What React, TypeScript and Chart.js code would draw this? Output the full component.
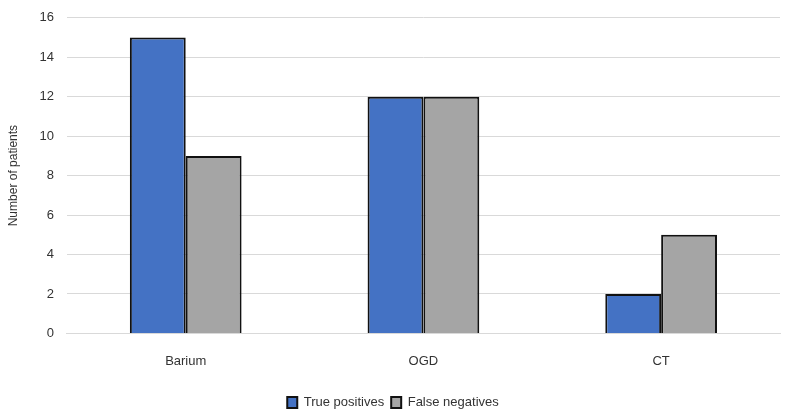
import React, { useEffect, useRef } from 'react'
import { Chart, registerables } from 'chart.js'

Chart.register(...registerables)

const categories = ['Barium', 'OGD', 'CT']
const truePositives = [15, 12, 2]
const falseNegatives = [9, 12, 5]
const seriesNames = ['True positives', 'False negatives']

const App: React.FC = () => {
  const ref = useRef<HTMLCanvasElement | null>(null)

  useEffect(() => {
    document.body.style.margin = '0'
    document.body.style.overflow = 'hidden'
    if (!ref.current) return
    const font = "'Liberation Sans', Arial, sans-serif"
    const chart = new Chart(ref.current, {
      type: 'bar',
      data: {
        labels: categories,
        datasets: [
          {
            label: seriesNames[0],
            data: truePositives,
            backgroundColor: '#4472C4',
            borderColor: '#111111',
            borderWidth: 2,
            categoryPercentage: 0.47,
            barPercentage: 1,
          },
          {
            label: seriesNames[1],
            data: falseNegatives,
            backgroundColor: '#A5A5A5',
            borderColor: '#111111',
            borderWidth: 2,
            categoryPercentage: 0.47,
            barPercentage: 1,
          },
        ],
      },
      options: {
        animation: false,
        responsive: true,
        maintainAspectRatio: false,
        layout: { padding: { top: 0, right: 5, left: 6, bottom: 0 } },
        scales: {
          x: {
            grid: { display: false, drawTicks: false },
            border: { display: true, color: '#d9d9d9', width: 1 },
            ticks: { color: '#333333', font: { family: font, size: 13 }, padding: 20 },
          },
          y: {
            min: 0,
            max: 16,
            ticks: { stepSize: 2, color: '#333333', font: { family: font, size: 13 }, padding: 13 },
            grid: { color: '#d9d9d9', lineWidth: 1, drawTicks: false },
            border: { display: false },
            title: {
              display: true,
              text: 'Number of patients',
              color: '#333333',
              font: { family: font, size: 12 },
              padding: { top: 0, bottom: 6 },
            },
          },
        },
        plugins: {
          legend: {
            position: 'bottom',
            labels: {
              color: '#333333',
              font: { family: font, size: 13 },
              boxWidth: 10,
              boxHeight: 11,
              padding: 7,
              useBorderRadius: false,
            },
          },
          tooltip: { enabled: false },
        },
      },
    })
    return () => chart.destroy()
  }, [])

  return (
    <div style={{ width: 785, height: 418, overflow: 'hidden', background: '#fff' }}>
      <div style={{ width: 785, height: 422, position: 'relative', marginTop: -3 }}>
        <canvas ref={ref} />
      </div>
    </div>
  )
}

export default App
